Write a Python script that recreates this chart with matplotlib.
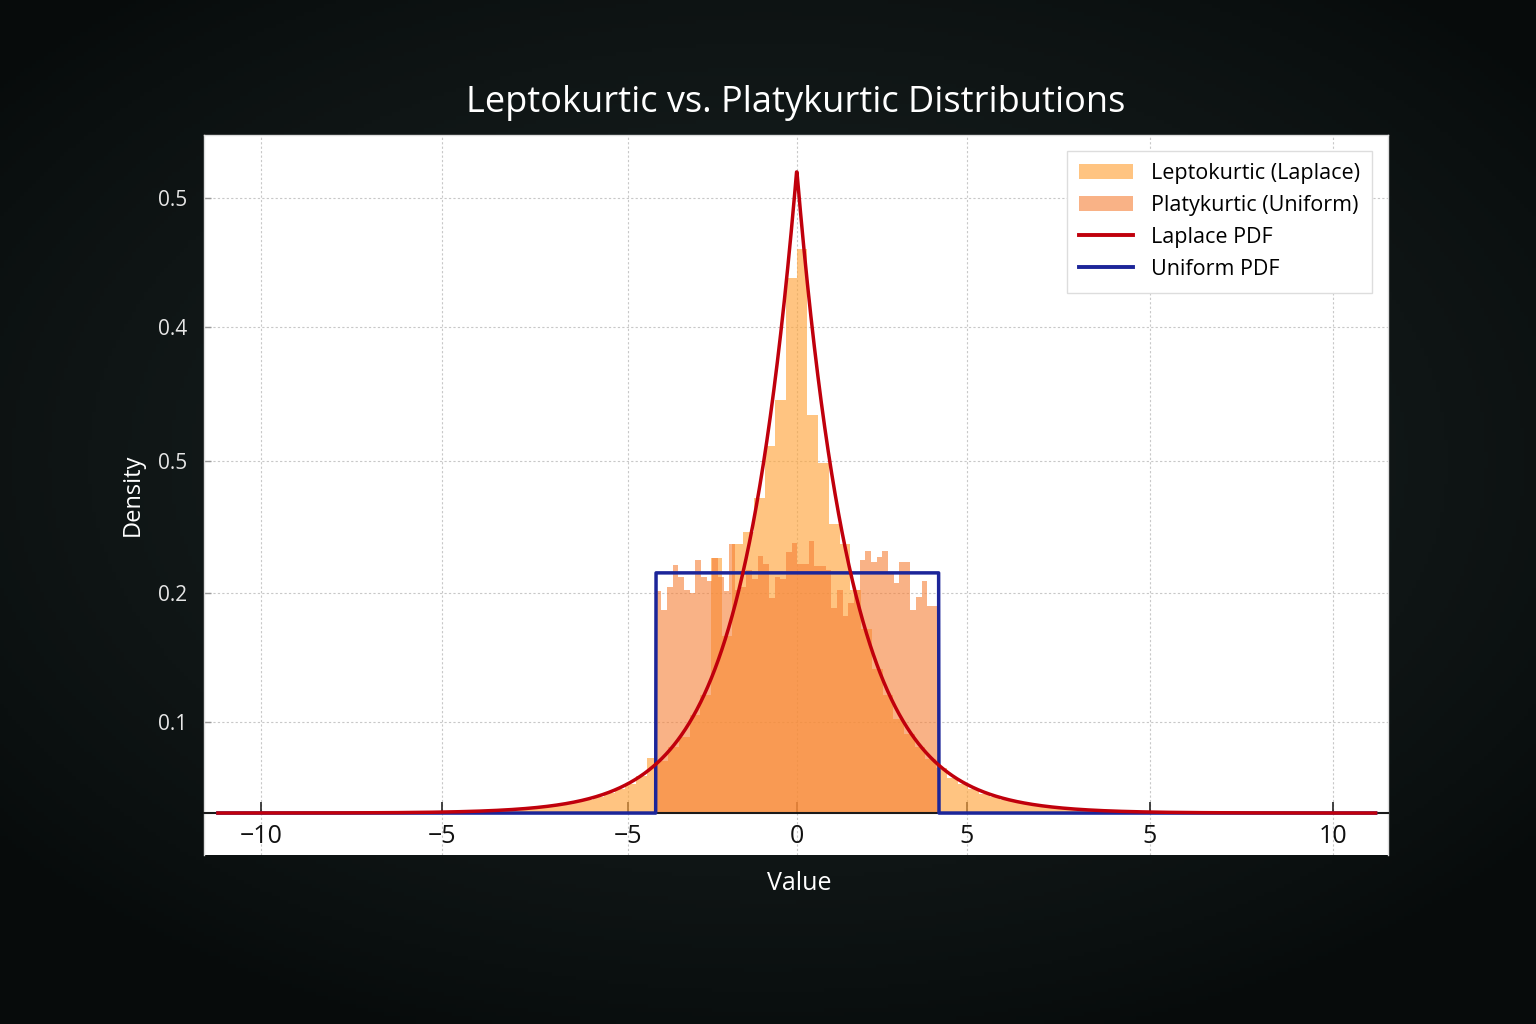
import numpy as np
import matplotlib.pyplot as plt
from matplotlib.patches import Patch
from matplotlib.lines import Line2D

plt.rcParams['font.family'] = ['Open Sans', 'DejaVu Sans']

# ---- data ----
# Laplace histogram: 80 bins of width 0.2 starting at -8
lap_start, lap_width = -8.0, 0.2
lap_heights = [
    0.0002, 0.0002, 0.0003, 0.0003, 0.0004, 0.0005, 0.0006, 0.0007, 0.0009, 0.0011,
    0.0013, 0.0016, 0.0020, 0.0025, 0.0030, 0.0037, 0.0045, 0.0055, 0.0067, 0.0082,
    0.0100, 0.0122, 0.0150, 0.0182, 0.0222, 0.028, 0.042, 0.040, 0.050, 0.058,
    0.075, 0.090, 0.194, 0.135, 0.205, 0.214, 0.240, 0.280, 0.315, 0.408,
    0.430, 0.303, 0.267, 0.220, 0.205, 0.170, 0.140, 0.110, 0.090, 0.072,
    0.060, 0.050, 0.041, 0.034, 0.027, 0.0220, 0.0180, 0.0148, 0.0121, 0.0099,
    0.0081, 0.0066, 0.0054, 0.0045, 0.0036, 0.0030, 0.0024, 0.0020, 0.0016, 0.0013,
    0.0011, 0.0009, 0.0007, 0.0006, 0.0005, 0.0004, 0.0003, 0.0003, 0.0002, 0.0002,
]

# Uniform histogram: 50 bins between uni_low and uni_high
uni_low, uni_high = -2.63, 2.65
uni_heights = [
    0.169, 0.155, 0.172, 0.189, 0.180, 0.170, 0.168, 0.193, 0.180, 0.177,
    0.194, 0.180, 0.169, 0.205, 0.170, 0.172, 0.185, 0.178, 0.196, 0.190,
    0.164, 0.180, 0.178, 0.199, 0.206, 0.190, 0.190, 0.207, 0.188, 0.188,
    0.185, 0.156, 0.170, 0.150, 0.160, 0.170, 0.193, 0.200, 0.191, 0.195,
    0.200, 0.183, 0.175, 0.191, 0.191, 0.155, 0.165, 0.177, 0.158, 0.158,
]

# fitted pdf parameters
laplace_loc, laplace_scale = 0.0, 1.02
uniform_pdf_height = 0.183
pdf_range = (-10.8, 10.8)

# axis ticks as printed in the picture
xtick_pos = [-10, -6.62, -3.15, 0, 3.17, 6.59, 10]
xtick_lab = ['\u221210', '\u22125', '\u22125', '0', '5', '5', '10']
ytick_pos = [0.069, 0.168, 0.268, 0.370, 0.469]
ytick_lab = ['0.1', '0.2', '0.5', '0.4', '0.5']

lap_color = '#ffa53d'
uni_color = '#f67f35'
lap_alpha, uni_alpha = 0.65, 0.6

fig = plt.figure(figsize=(15.36, 10.24), dpi=100)

# dark vignette background
bg = fig.add_axes([0, 0, 1, 1], zorder=-10)
yy, xx = np.mgrid[0:1:256j, 0:1:384j]
r = np.sqrt(((xx - 0.5) / 0.65) ** 2 + ((yy - 0.45) / 0.6) ** 2)
v = np.clip(1 - r, 0, 1) ** 0.8
img = np.zeros((256, 384, 3))
img[..., 0] = (7 + 20 * v) / 255
img[..., 1] = (11 + 25 * v) / 255
img[..., 2] = (11 + 25 * v) / 255
bg.imshow(img, aspect='auto', extent=[0, 1, 0, 1])
bg.axis('off')

ax = fig.add_axes([0.1328, 0.165, 0.7708, 0.7031])
ax.set_facecolor('white')

# spine position first: moving it resets the tick formatting
ax.spines['bottom'].set_position(('data', 0))
ax.spines['bottom'].set_color('#1a1a1a')
ax.spines['bottom'].set_linewidth(1.5)
ax.spines['bottom'].set_zorder(3.5)
for s in ['top', 'left', 'right']:
    ax.spines[s].set_color('#dddddd')
    ax.spines[s].set_linewidth(1)

lap_edges = lap_start + lap_width * np.arange(len(lap_heights) + 1)
uni_edges = np.linspace(uni_low, uni_high, len(uni_heights) + 1)

ax.bar(lap_edges[:-1], lap_heights, width=np.diff(lap_edges), align='edge',
       color=lap_color, alpha=lap_alpha, linewidth=0, zorder=2)
ax.bar(uni_edges[:-1], uni_heights, width=np.diff(uni_edges), align='edge',
       color=uni_color, alpha=uni_alpha, linewidth=0, zorder=3)

x = np.linspace(pdf_range[0], pdf_range[1], 3000)
lap_pdf = np.exp(-np.abs(x - laplace_loc) / laplace_scale) / (2 * laplace_scale)
uni_pdf = np.where((x >= uni_low) & (x <= uni_high), uniform_pdf_height, 0.0)
ax.plot(x, uni_pdf, color='#1c2599', lw=2.5, zorder=4)
ax.plot(x, lap_pdf, color='#c0000c', lw=2.5, zorder=5)

ax.set_xlim(-11.06, 11.03)
ax.set_ylim(-0.032, 0.5166)

ax.set_xticks(xtick_pos)
ax.set_xticklabels(xtick_lab)
ax.set_yticks(ytick_pos)
ax.set_yticklabels(ytick_lab)
ax.tick_params(axis='x', direction='in', length=8, width=1.2, color='#222222',
               pad=8, labelsize=18, labelcolor='#111111')
ax.tick_params(axis='y', direction='in', length=5, width=1, color='#999999',
               pad=12, labelsize=15, labelcolor='#e6e6e6')

ax.grid(True, color='#c8c8c8', linestyle=(0, (2, 2)), linewidth=0.8, zorder=0)
ax.set_axisbelow(True)

ax.set_xlabel('Value', fontsize=18, color='white')
ax.xaxis.set_label_coords(0.5025, -0.022)
ax.set_ylabel('Density', fontsize=17, color='white')
ax.yaxis.set_label_coords(-0.05, 0.5)
fig.text(0.518, 0.899, 'Leptokurtic vs. Platykurtic Distributions', fontsize=26,
         color='white', ha='center', va='center')

handles = [
    Patch(facecolor=lap_color, alpha=lap_alpha, label='Leptokurtic (Laplace)'),
    Patch(facecolor=uni_color, alpha=uni_alpha, label='Platykurtic (Uniform)'),
    Line2D([], [], color='#c0000c', lw=2.8, label='Laplace PDF'),
    Line2D([], [], color='#1c2599', lw=2.8, label='Uniform PDF'),
]
leg = ax.legend(handles=handles, loc='upper right', fontsize=15.5, frameon=True,
                fancybox=False, framealpha=1, edgecolor='#dddddd',
                handlelength=2.5, handletextpad=0.8, borderaxespad=0.72,
                labelspacing=0.5, borderpad=0.6)
leg.set_zorder(10)

fig.savefig('out.png', dpi=100, facecolor=fig.get_facecolor())
